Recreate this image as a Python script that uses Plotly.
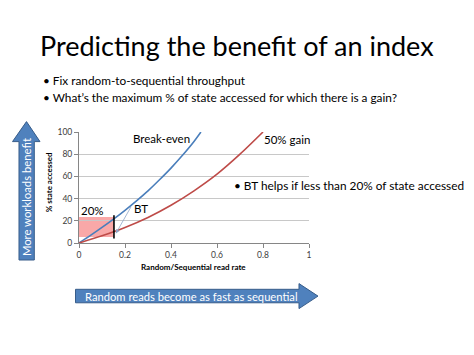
import plotly.graph_objects as go

# ---- data ----
rate_breakeven = [0, 0.05, 0.1, 0.15, 0.2, 0.25, 0.3, 0.35, 0.4, 0.45, 0.5, 0.53]
state_breakeven = [0, 6.8, 14, 21.5, 29.5, 38, 47, 57, 67.5, 79, 91.5, 100]
rate_gain50 = [0, 0.1, 0.2, 0.3, 0.4, 0.5, 0.6, 0.7, 0.8]
state_gain50 = [0, 6.5, 14, 23, 34, 47, 62, 80, 100]
highlight_rate = [0, 0.15]      # pink band x-extent
highlight_state = [5.5, 23.5]   # pink band y-extent
marker_rate = 0.152             # black vertical marker
marker_state = [4, 25]
bt_point = (0.16, 8.5)          # BT arrow target
bt_label = (0.23, 34)           # BT arrow start
x_ticks = [0, 0.2, 0.4, 0.6, 0.8, 1]
x_tick_labels = ["0", "0.2", "0.4", "0.6", "0.8", "1"]
y_ticks = [0, 20, 40, 60, 80, 100]

OFF = 8  # page body margin
W, H = 474 - OFF, 355 - OFF
L, R, T, B = 79, 309, 131.7, 242.7   # plot area in page pixels
FONT = "Lato"

def px(x):
    return (x - L) / (R - L)

def py(y):
    return (B - y) / (B - T)

def poly(points):
    return "M " + " L ".join(f"{px(a):.4f},{py(b):.4f}" for a, b in points) + " Z"

fig = go.Figure()
fig.add_trace(go.Scatter(x=rate_breakeven, y=state_breakeven, mode="lines",
                         line=dict(color="#4a7ebb", width=1.6, shape="spline", smoothing=0.8),
                         showlegend=False, hoverinfo="skip"))
fig.add_trace(go.Scatter(x=rate_gain50, y=state_gain50, mode="lines",
                         line=dict(color="#be4b48", width=1.6, shape="spline", smoothing=0.8),
                         showlegend=False, hoverinfo="skip"))

shapes = [
    dict(type="rect", xref="x", yref="y", x0=highlight_rate[0], x1=highlight_rate[1],
         y0=highlight_state[0], y1=highlight_state[1],
         fillcolor="rgba(245,110,110,0.6)", line=dict(width=0), layer="below"),
    dict(type="line", xref="x", yref="y", x0=marker_rate, x1=marker_rate,
         y0=marker_state[0], y1=marker_state[1], line=dict(color="black", width=1.6)),
    dict(type="path", xref="paper", yref="paper",
         path=poly([(26.5, 121.3), (40, 141.3), (34.3, 141.3), (34.3, 259.7),
                    (19, 259.7), (19, 141.3), (12.5, 141.3)]),
         fillcolor="#4f81bd", line=dict(color="#385d8a", width=1)),
    dict(type="path", xref="paper", yref="paper",
         path=poly([(75.5, 289), (299, 289), (299, 283.3), (318, 295.8),
                    (299, 308.3), (299, 302.5), (75.5, 302.5)]),
         fillcolor="#4f81bd", line=dict(color="#385d8a", width=1)),
]

ann = [
    dict(text="Predicting the benefit of an index", x=px(237), y=py(45),
         font=dict(size=27, color="black")),
    dict(text="• Fix random-to-sequential throughput", x=px(41), y=py(80),
         xanchor="left", font=dict(size=11.8, color="black")),
    dict(text="• What’s the maximum % of state accessed for which there is a gain?",
         x=px(41), y=py(97), xanchor="left", font=dict(size=11.8, color="black")),
    dict(text="Break-even", x=px(161.5), y=py(138), font=dict(size=11.5, color="black")),
    dict(text="50% gain", x=px(286.5), y=py(139), font=dict(size=11.5, color="black")),
    dict(text="• BT helps if less than 20% of state accessed", x=px(232), y=py(185),
         xanchor="left", font=dict(size=11.8, color="black")),
    dict(text="20%", x=px(92), y=py(210), font=dict(size=11.5, color="black")),
    dict(text="BT", x=px(141), y=py(208), font=dict(size=11.5, color="black")),
    dict(text="<b>% state accessed</b>", x=px(49), y=py(182), textangle=-90,
         font=dict(size=8, color="black")),
    dict(text="<b>Random/Sequential read rate</b>", x=px(193), y=py(266.5),
         font=dict(size=8, color="black")),
    dict(text="More workloads benefit", x=px(26.8), y=py(197), textangle=-90,
         font=dict(size=11.3, color="white")),
    dict(text="Random reads become as fast as sequential", x=px(191), y=py(295.8),
         font=dict(size=11.2, color="white")),
]
for a in ann:
    a.setdefault("xref", "paper")
    a.setdefault("yref", "paper")
    a.setdefault("showarrow", False)
    a.setdefault("xanchor", "center")
    a.setdefault("yanchor", "middle")
ann.append(dict(x=bt_point[0], y=bt_point[1], ax=bt_label[0], ay=bt_label[1],
                xref="x", yref="y", axref="x", ayref="y", text="", showarrow=True,
                arrowhead=2, arrowsize=1, arrowwidth=0.8, arrowcolor="#8ea6c8"))

fig.update_layout(
    width=W, height=H,
    margin=dict(l=L - OFF, r=W - (R - OFF), t=T - OFF, b=H - (B - OFF)),
    paper_bgcolor="white", plot_bgcolor="white",
    font=dict(family=FONT, color="black"),
    shapes=shapes, annotations=ann,
    xaxis=dict(range=[0, 1], tickvals=x_ticks, ticktext=x_tick_labels,
               showgrid=False, zeroline=False, showline=True, linecolor="#868686",
               ticks="outside", ticklen=4, tickcolor="#868686",
               tickfont=dict(size=8.5, color="#404040")),
    yaxis=dict(range=[0, 100], tickvals=y_ticks, showgrid=True, gridcolor="#c8c8c8",
               zeroline=False, showline=True, linecolor="#868686",
               ticks="outside", ticklen=4, tickcolor="#868686",
               tickfont=dict(size=8.5, color="#404040")),
)
fig.write_html("out.html")
